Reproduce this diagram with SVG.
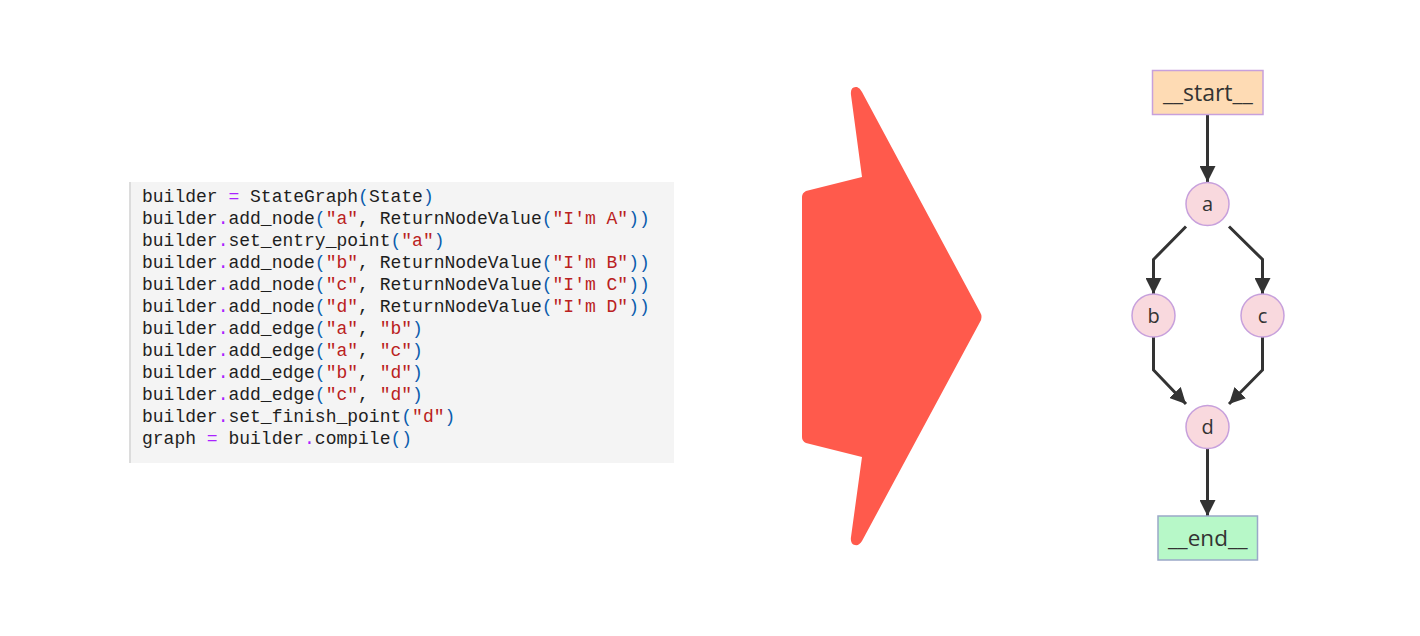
<svg xmlns="http://www.w3.org/2000/svg" width="1420" height="636" viewBox="0 0 1420 636">
<style>
.code{font-family:"Liberation Mono","Courier New",monospace;font-size:18px;fill:#1e1e1e;white-space:pre}
.op{fill:#aa22ff}
.s{fill:#ba2121}
.p{fill:#0b5cad}
.lbl{font-family:"Open Sans","DejaVu Sans",sans-serif;fill:#333;text-anchor:middle}
.circ{fill:#f9d9de;stroke:#c7a0dc;stroke-width:1.5}
.edge{fill:none;stroke:#333;stroke-width:3}
</style>
<defs>
<marker id="ah" viewBox="0 0 10 10" refX="10" refY="5" markerWidth="16" markerHeight="16" markerUnits="userSpaceOnUse" orient="auto">
<path d="M0,0 L10,5 L0,10 z" fill="#333"/>
</marker>
</defs>
<rect width="1420" height="636" fill="#ffffff"/>

<g id="code-panel">
<rect x="129" y="182" width="545" height="281" fill="#f4f4f4"/>
<rect x="129" y="182" width="2" height="281" fill="#dcdcdc"/>
<text class="code" x="142" y="201.7">builder <tspan class="op">=</tspan> StateGraph<tspan class="p">(</tspan>State<tspan class="p">)</tspan></text>
<text class="code" x="142" y="223.7">builder<tspan class="op">.</tspan>add_node<tspan class="p">(</tspan><tspan class="s">"a"</tspan>, ReturnNodeValue<tspan class="p">(</tspan><tspan class="s">"I'm A"</tspan><tspan class="p">))</tspan></text>
<text class="code" x="142" y="245.7">builder<tspan class="op">.</tspan>set_entry_point<tspan class="p">(</tspan><tspan class="s">"a"</tspan><tspan class="p">)</tspan></text>
<text class="code" x="142" y="267.7">builder<tspan class="op">.</tspan>add_node<tspan class="p">(</tspan><tspan class="s">"b"</tspan>, ReturnNodeValue<tspan class="p">(</tspan><tspan class="s">"I'm B"</tspan><tspan class="p">))</tspan></text>
<text class="code" x="142" y="289.7">builder<tspan class="op">.</tspan>add_node<tspan class="p">(</tspan><tspan class="s">"c"</tspan>, ReturnNodeValue<tspan class="p">(</tspan><tspan class="s">"I'm C"</tspan><tspan class="p">))</tspan></text>
<text class="code" x="142" y="311.7">builder<tspan class="op">.</tspan>add_node<tspan class="p">(</tspan><tspan class="s">"d"</tspan>, ReturnNodeValue<tspan class="p">(</tspan><tspan class="s">"I'm D"</tspan><tspan class="p">))</tspan></text>
<text class="code" x="142" y="333.7">builder<tspan class="op">.</tspan>add_edge<tspan class="p">(</tspan><tspan class="s">"a"</tspan>, <tspan class="s">"b"</tspan><tspan class="p">)</tspan></text>
<text class="code" x="142" y="355.7">builder<tspan class="op">.</tspan>add_edge<tspan class="p">(</tspan><tspan class="s">"a"</tspan>, <tspan class="s">"c"</tspan><tspan class="p">)</tspan></text>
<text class="code" x="142" y="377.7">builder<tspan class="op">.</tspan>add_edge<tspan class="p">(</tspan><tspan class="s">"b"</tspan>, <tspan class="s">"d"</tspan><tspan class="p">)</tspan></text>
<text class="code" x="142" y="399.7">builder<tspan class="op">.</tspan>add_edge<tspan class="p">(</tspan><tspan class="s">"c"</tspan>, <tspan class="s">"d"</tspan><tspan class="p">)</tspan></text>
<text class="code" x="142" y="421.7">builder<tspan class="op">.</tspan>set_finish_point<tspan class="p">(</tspan><tspan class="s">"d"</tspan><tspan class="p">)</tspan></text>
<text class="code" x="142" y="443.7">graph <tspan class="op">=</tspan> builder<tspan class="op">.</tspan>compile<tspan class="p">()</tspan></text>
</g>

<g id="big-arrow">
<path d="M851,95 Q850,86 857,87 Q860,88 862,92 L980,312 Q983,317 980,322 L862,541 Q859,546 855,545 Q850,544 851,537 L862,457 L806,443 Q802,441 802,437 L802,197 Q802,193 806,191 L862,177 Z" fill="#ff5a4c"/>
</g>

<g id="edges">
<line class="edge" x1="1207.5" y1="115" x2="1207.5" y2="182" marker-end="url(#ah)"/>
<polyline class="edge" points="1186,226.5 1153.5,259.5 1153.5,294" marker-end="url(#ah)"/>
<polyline class="edge" points="1229,226.5 1262.5,259.5 1262.5,294" marker-end="url(#ah)"/>
<polyline class="edge" points="1153.5,337 1153.5,370 1186,404" marker-end="url(#ah)"/>
<polyline class="edge" points="1262.5,337 1262.5,370 1229,404" marker-end="url(#ah)"/>
<line class="edge" x1="1207.5" y1="449" x2="1207.5" y2="516" marker-end="url(#ah)"/>
</g>

<g id="node-start">
<rect x="1152.5" y="70.5" width="110.5" height="44" fill="#fedbb4" stroke="#c7a0dc" stroke-width="1.5"/>
<text class="lbl" x="1207.8" y="101" font-size="23">__start__</text>
</g>
<g id="node-a">
<circle class="circ" cx="1207.5" cy="204" r="21.5"/>
<text class="lbl" x="1207.5" y="211" font-size="20">a</text>
</g>
<g id="node-b">
<circle class="circ" cx="1153.5" cy="315.5" r="21.5"/>
<text class="lbl" x="1153.5" y="322.5" font-size="20">b</text>
</g>
<g id="node-c">
<circle class="circ" cx="1262.5" cy="315.5" r="21.5"/>
<text class="lbl" x="1262.5" y="322.5" font-size="20">c</text>
</g>
<g id="node-d">
<circle class="circ" cx="1207.5" cy="427" r="21.5"/>
<text class="lbl" x="1207.5" y="434" font-size="20">d</text>
</g>
<g id="node-end">
<rect x="1158" y="516" width="99.5" height="44" fill="#b7f8c8" stroke="#9aa8c8" stroke-width="1.5"/>
<text class="lbl" x="1207.8" y="546" font-size="22.5">__end__</text>
</g>
</svg>
